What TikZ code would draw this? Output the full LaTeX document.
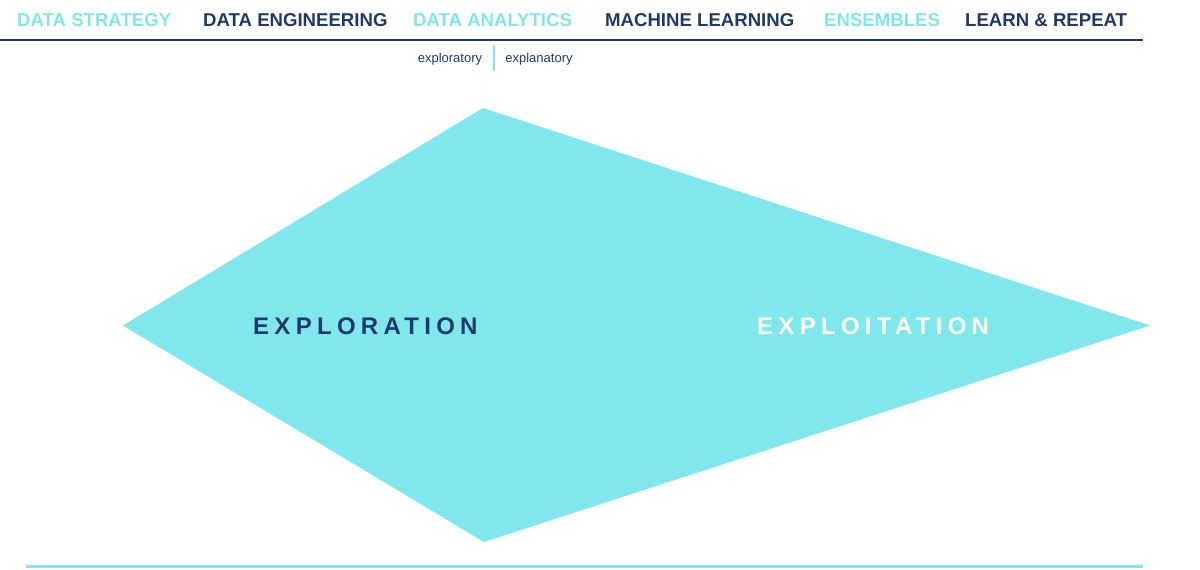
\documentclass[tikz,border=0pt]{standalone}
\usepackage{fontspec}
\setmainfont{Liberation Sans}
\definecolor{cyanfill}{HTML}{80E7EC}
\definecolor{cyantext}{HTML}{80E6EE}
\definecolor{navy}{HTML}{1D3A6C}
\begin{document}
\begin{tikzpicture}[x=1pt,y=-1pt,
  head/.style={anchor=base west,inner sep=0pt,font=\fontsize{18.6}{20}\selectfont\bfseries},
  sub/.style={anchor=base,inner sep=0pt,font=\fontsize{13}{15}\selectfont,text=navy},
  big/.style={anchor=base west,inner sep=0pt,font=\fontsize{24}{26}\selectfont\bfseries\addfontfeature{LetterSpace=22}}]
\useasboundingbox (0,0) rectangle (1200,570);
% header
\node[head,text=cyantext] (h1) at (17,27) {DATA STRATEGY};
\node[head,text=navy] (h2) at (203,27) {DATA ENGINEERING};
\node[head,text=cyantext] (h3) at (413,27) {DATA ANALYTICS};
\node[head,text=navy] (h4) at (605,27) {MACHINE LEARNING};
\node[head,text=cyantext] (h5) at (824,27) {ENSEMBLES};
\node[head,text=navy] (h6) at (965,27) {LEARN \& REPEAT};
\coordinate (tl) at (0,40);
\coordinate (tr) at (1143,40);
\draw[navy,line width=2pt] (tl) -- (tr);
% sub labels
\node[sub] (s1) at (450,62) {exploratory};
\node[sub] (s2) at (539,62) {explanatory};
\coordinate (d1) at (494,45);
\coordinate (d2) at (494,71);
\draw[cyanfill,line width=1.5pt] (d1) -- (d2);
% diamond
\coordinate (L) at (123,325.5);
\coordinate (T) at (483,108);
\coordinate (R) at (1150,325.5);
\coordinate (B) at (484,542);
\fill[cyanfill] (L) -- (T) -- (R) -- (B) -- cycle;
\node[big,text=navy] (e1) at (253,334) {EXPLORATION};
\node[big,text=white] (e2) at (757,334) {EXPLOITATION};
% bottom line
\coordinate (bl) at (26,566);
\coordinate (br) at (1143,566);
\draw[cyanfill,line width=3pt] (bl) -- (br);
\end{tikzpicture}
\end{document}
